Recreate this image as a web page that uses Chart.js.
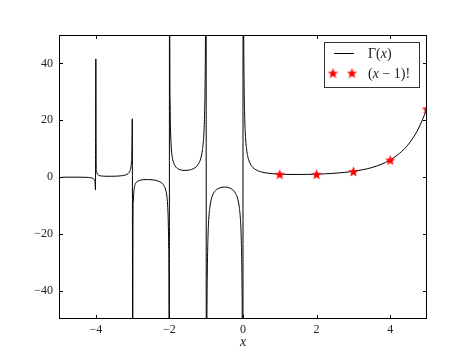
<!DOCTYPE html>
<html>
<head>
<meta charset="utf-8">
<script src="https://cdn.jsdelivr.net/npm/chart.js@4.4.1/dist/chart.umd.min.js"></script>
<style>
  html, body { margin: 0; padding: 0; background: #fff; }
  canvas { display: block; }
</style>
</head>
<body>
<canvas id="gammaChart" width="474" height="355"></canvas>
<script>
// Gamma curve (values past +-50 run off the plot)
const gammaX = [-5, -4.98, -4.95, -4.9, -4.8, -4.7, -4.5, -4.4, -4.3, -4.2, -4.15, -4.1, -4.07, -4.05,
    -4.03, -4.02, -4.009,
    -3.999, -3.99, -3.98, -3.97, -3.95, -3.93, -3.9, -3.85, -3.8, -3.7, -3.6, -3.5, -3.4, -3.3, -3.25,
    -3.2, -3.15, -3.1, -3.07, -3.05, -3.03, -3.02, -3.008,
    -2.998, -2.99, -2.98, -2.97, -2.95, -2.93, -2.9, -2.85, -2.8, -2.75, -2.7, -2.6, -2.5, -2.4, -2.3,
    -2.25, -2.2, -2.15, -2.1, -2.07, -2.05, -2.03, -2.02, -2.01, -2.004,
    -1.996, -1.99, -1.98, -1.97, -1.95, -1.93, -1.9, -1.85, -1.8, -1.75, -1.7, -1.6, -1.5, -1.4, -1.3,
    -1.25, -1.2, -1.15, -1.1, -1.07, -1.05, -1.03, -1.02, -1.01, -1.004,
    -0.996, -0.99, -0.98, -0.97, -0.95, -0.93, -0.9, -0.85, -0.8, -0.75, -0.7, -0.6, -0.5, -0.4, -0.3,
    -0.25, -0.2, -0.15, -0.1, -0.07, -0.05, -0.03, -0.02, -0.01, -0.004,
    0.004, 0.01, 0.02, 0.03, 0.05, 0.07, 0.1, 0.125, 0.15, 0.2, 0.25, 0.3, 0.35, 0.4, 0.5, 0.6, 0.7, 0.8,
    1, 1.25, 1.5, 1.75, 2, 2.25, 2.5, 2.75, 3, 3.25, 3.5, 3.75, 4, 4.25, 4.5, 4.75, 5];
const gammaY = [-0.85, -0.43, -0.18, -0.1, -0.06, -0.05, -0.06, -0.075, -0.1, -0.16, -0.23, -0.36, -0.54, -0.77,
    -1.33, -2.0, -4.6,
    41.6, 4.2, 2.15, 1.46, 0.9, 0.67, 0.49, 0.36, 0.3, 0.25, 0.25, 0.27, 0.33, 0.44, 0.54,
    0.69, 0.95, 1.49, 2.19, 3.1, 5.35, 8.1, 20.5,
    -83, -17, -8.6, -5.8, -3.6, -2.6, -1.9, -1.4, -1.15, -1.0, -0.95, -0.9, -0.95, -1.1, -1.45,
    -1.74, -2.2, -3.0, -4.6, -6.7, -9.6, -16.2, -24.6, -49.6, -124,
    124, 50.5, 25.5, 17.2, 10.5, 7.7, 5.6, 4.0, 3.2, 2.76, 2.5, 2.31, 2.36, 2.66, 3.3,
    3.9, 4.85, 6.45, 9.7, 13.9, 19.6, 32.9, 49.6, 99.6, 250,
    -250, -100, -50.4, -33.8, -20.5, -14.8, -10.6, -7.3, -5.7, -4.8, -4.3, -3.7, -3.55, -3.7, -4.3,
    -4.9, -5.8, -7.4, -10.7, -14.9, -20.6, -33.9, -50.6, -100.6, -250,
    250, 99.4, 49.4, 32.8, 19.5, 13.8, 9.5, 7.5, 6.2, 4.6, 3.6, 3.0, 2.55, 2.2, 1.77, 1.49, 1.3, 1.16,
    1.0, 0.91, 0.89, 0.92, 1.0, 1.13, 1.33, 1.61, 2.0, 2.55, 3.32, 4.42, 6.0, 8.3, 11.6, 16.6, 24.0];

// factorial markers
const factX = [1, 2, 3, 4, 5];
const factY = [1, 1, 2, 6, 24];

const xTicks = [-4, -2, 0, 2, 4];
const yTicks = [-40, -20, 0, 20, 40];

const serif = '"Liberation Serif", "DejaVu Serif", serif';
const minus = v => String(v).replace('-', '\u2212');

// filled five-point star used as the marker
function makeStar(size, color) {
    const c = document.createElement('canvas');
    c.width = size;
    c.height = size;
    const g = c.getContext('2d');
    const r = size / 2, ri = r * 0.42;
    g.beginPath();
    for (let i = 0; i < 10; i++) {
        const rad = i % 2 ? ri : r;
        const a = -Math.PI / 2 + i * Math.PI / 5;
        g.lineTo(r + rad * Math.cos(a), r + 0.6 + rad * Math.sin(a));
    }
    g.closePath();
    g.fillStyle = color;
    g.fill();
    return c;
}
const star = makeStar(11, '#ff0000');

const frame = {
    id: 'frame',
    afterDraw(chart) {
        const { ctx, chartArea: a, scales: { x, y } } = chart;
        ctx.save();
        ctx.strokeStyle = '#000';
        ctx.lineWidth = 1;
        ctx.strokeRect(a.left + 0.5, a.top + 0.5, a.right - a.left - 1, a.bottom - a.top - 1);

        // inward ticks on every side
        ctx.beginPath();
        xTicks.forEach(v => {
            const px = Math.round(x.getPixelForValue(v)) + 0.5;
            ctx.moveTo(px, a.bottom); ctx.lineTo(px, a.bottom - 4);
            ctx.moveTo(px, a.top); ctx.lineTo(px, a.top + 4);
        });
        yTicks.forEach(v => {
            const py = Math.round(y.getPixelForValue(v)) + 0.5;
            ctx.moveTo(a.left, py); ctx.lineTo(a.left + 4, py);
            ctx.moveTo(a.right, py); ctx.lineTo(a.right - 4, py);
        });
        ctx.stroke();

        // legend box
        const lx = 324, ly = 42, lw = 95, lh = 45;
        ctx.fillStyle = '#fff';
        ctx.fillRect(lx, ly, lw, lh);
        ctx.strokeStyle = '#333';
        ctx.strokeRect(lx + 0.5, ly + 0.5, lw, lh);

        ctx.strokeStyle = '#000';
        ctx.beginPath();
        ctx.moveTo(334, 53.5);
        ctx.lineTo(354, 53.5);
        ctx.stroke();
        ctx.drawImage(star, 333 - 5.5, 73 - 5.5);
        ctx.drawImage(star, 352 - 5.5, 73 - 5.5);

        ctx.fillStyle = '#222';
        ctx.textBaseline = 'middle';
        const parts = (items, px, py) => {
            items.forEach(([t, it]) => {
                ctx.font = (it ? 'italic ' : '') + '14px ' + serif;
                ctx.fillText(t, px, py);
                px += ctx.measureText(t).width;
            });
        };
        parts([['\u0393(', false], ['x', true], [')', false]], 368, 54);
        parts([['(', false], ['x', true], [' \u2212 1)!', false]], 368, 74);
        ctx.restore();
    }
};

const ctx = document.getElementById('gammaChart').getContext('2d');
const gammaChart = new Chart(ctx, {
    type: 'scatter',
    data: {
        datasets: [{
            label: '(x \u2212 1)!',
            data: factX.map((v, i) => ({ x: v, y: factY[i] })),
            pointStyle: star,
            pointRadius: 5,
            showLine: false,
            clip: 0,
            order: 0,
        }, {
            label: '\u0393(x)',
            data: gammaX.map((v, i) => ({ x: v, y: gammaY[i] })),
            showLine: true,
            borderColor: '#000',
            borderWidth: 1,
            pointRadius: 0,
            cubicInterpolationMode: 'monotone',
            clip: 0,
            order: 1,
        }],
    },
    options: {
        responsive: false,
        animation: false,
        devicePixelRatio: 1,
        layout: { padding: { left: 0, right: 47, top: 35, bottom: 0 } },
        plugins: { legend: { display: false }, tooltip: { enabled: false } },
        scales: {
            x: {
                type: 'linear',
                min: -5,
                max: 5,
                grid: { display: false, drawTicks: false },
                border: { display: false },
                afterBuildTicks: s => { s.ticks = xTicks.map(v => ({ value: v })); },
                afterFit: s => { s.height = 36; },
                ticks: {
                    color: '#222',
                    padding: 4,
                    font: { family: serif, size: 12 },
                    callback: minus,
                },
                title: {
                    display: true,
                    text: 'x',
                    color: '#222',
                    padding: { top: 0, bottom: 4 },
                    font: { family: serif, size: 14, style: 'italic' },
                },
            },
            y: {
                min: -50,
                max: 50,
                grid: { display: false, drawTicks: false },
                border: { display: false },
                afterBuildTicks: s => { s.ticks = yTicks.map(v => ({ value: v })); },
                afterFit: s => { s.width = 59; },
                ticks: {
                    color: '#222',
                    padding: 6,
                    font: { family: serif, size: 12 },
                    callback: minus,
                },
            },
        },
    },
    plugins: [frame],
});
</script>
</body>
</html>
